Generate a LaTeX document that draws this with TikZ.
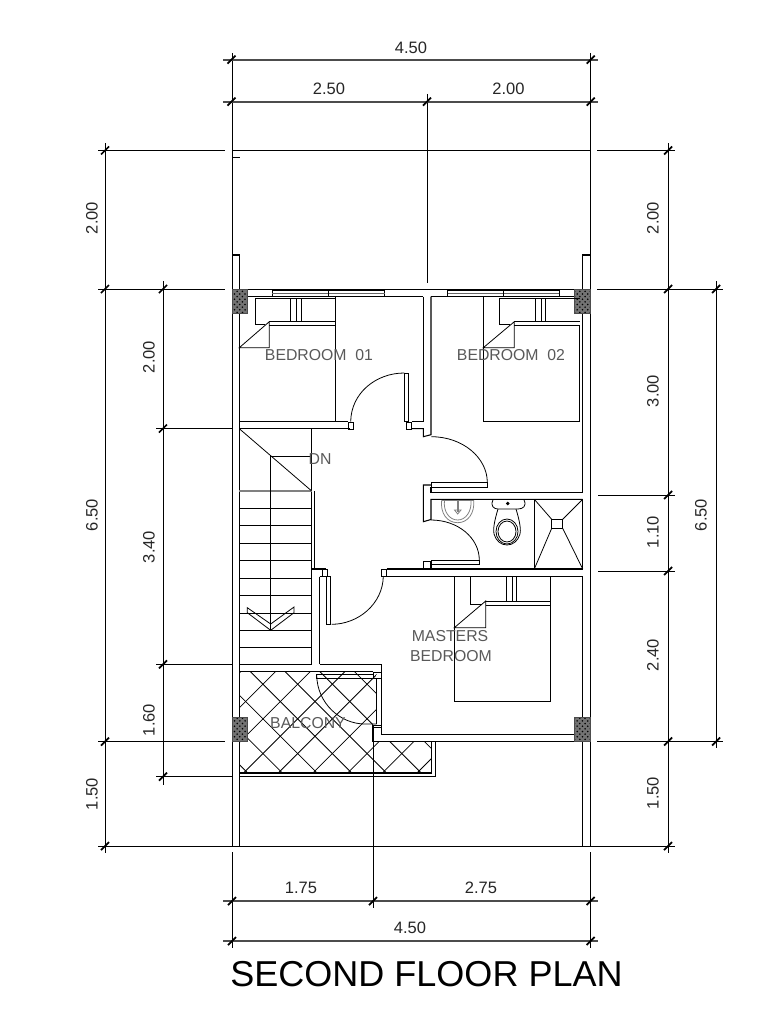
\documentclass[tikz,border=0pt]{standalone}
\usepackage{fontspec}
\setmainfont{Liberation Sans}
\usetikzlibrary{patterns}
\tikzset{
	wall/.style={black, line width=0.6pt},
	fine/.style={black, line width=0.45pt},
	dimline/.style={black!70, line width=1pt},
	extline/.style={black, line width=0.55pt},
	tick/.style={black, line width=1pt},
	dimtext/.style={font=\fontsize{9.4}{11}\selectfont, text=black!85, inner sep=0pt},
	roomtext/.style={font=\fontsize{9}{11}\selectfont, text=black!65, inner sep=0pt, align=center},
	column/.style={preaction={fill=black!55}, pattern=crosshatch dots, pattern color=black, draw=black!70, line width=0.4pt},
}
\begin{document}
\begin{tikzpicture}[x=0.02cm, y=-0.02cm]
	\useasboundingbox (0,0) rectangle (768,1024);

	% outer lines
	\draw [extline] (232,53) -- (232,150.5) -- (590.7,150.5);
	\draw [extline] (232,150.5) -- (232,846);
	\draw [extline] (590.7,53) -- (590.7,846);
	\draw [extline] (232,846) -- (590.7,846);
	\draw [wall] (232,255) -- (239.3,255) -- (239.3,846);
	\draw [wall] (590.7,255) -- (582.7,255) -- (582.7,492.5) -- (431,492.5);
	\draw [wall] (582.7,499.3) -- (582.7,569);
	\draw [wall] (582.7,576.7) -- (582.7,734.3);
	\draw [wall] (582.7,741.3) -- (582.7,846);
	\draw [extline] (232,157) -- (240,157);
	\draw [extline] (427,94) -- (427,283);
	\draw [extline] (373,726) -- (373,908);
	\draw [extline] (232,852) -- (232,948);
	\draw [extline] (590.7,852) -- (590.7,948);

	% top wall and windows
	\draw [wall] (232,289.3) -- (590.7,289.3);
	\draw [wall] (248,296.7) -- (423.3,296.7);
	\draw [wall] (431,296.7) -- (574.3,296.7);
	\foreach \wx/\wm/\we in {272.3/328.3/384.7, 447.7/503.3/559.3}{
		\draw [fine, fill=white] (\wx,290) rectangle (\we,296);
		\draw [fine, black!60] (\wx,293) -- (\we,293);
		\draw [fine] (\wm,290) -- (\wm,296);
	}

	% inner walls
	\draw [wall] (423.3,296.7) -- (423.3,421.3) -- (411.7,421.3);
	\draw [wall] (431,296.7) -- (431,434.7) -- (423.3,436.7) -- (423.3,428.7) -- (411.7,428.7);
	\draw [wall] (239.3,421.3) -- (348.3,421.3);
	\draw [wall] (239.3,428.7) -- (350,428.7);
	\draw [wall] (431,485) -- (423.3,485) -- (423.3,521.7) -- (431,519.5) -- (431,499.3) -- (582.7,499.3);
	\draw [wall] (431,492.5) -- (431,487);
	\draw [wall] (431,561.7) -- (423.3,561.7) -- (423.3,569);
	\draw [wall] (431,561.7) -- (431,569);
	\draw [wall] (386.7,569) -- (582.7,569);
	\draw [wall] (386.7,576.7) -- (582.7,576.7);
	\draw [wall] (311.7,569) -- (326,569);
	\draw [wall, line width=0.8pt] (319.5,576.7) -- (319.5,664.3);
	\draw [wall] (319.5,664.3) -- (381.3,664.3) -- (381.3,734.3) -- (574.3,734.3);
	\draw [wall] (319.5,576.7) -- (327,576.7);
	\draw [wall] (239.3,664.3) -- (311.7,664.3);
	\draw [wall] (239.3,671.7) -- (373,671.7);
	\draw [wall] (373,725) -- (373,741.3) -- (590.7,741.3);
	\draw [wall] (431.3,741.3) -- (431.3,773) -- (239.3,773);
	\draw [wall] (435.3,741.3) -- (435.3,776.7) -- (239.3,776.7);

	% doors
	\draw [fine] (404.3,373) rectangle (408.5,421.3);
	\draw [fine] (350.7,421.7) .. controls (351,393) and (376,373) .. (404.3,373);
	\draw [fine] (348.5,422) rectangle (353,429);
	\draw [fine] (406,422) rectangle (411.7,429);
	\draw [fine] (431,482.3) rectangle (487.3,487.3);
	\draw [fine] (431.3,436.7) .. controls (463,436.7) and (487.3,458) .. (487.3,482.3);
	\draw [fine] (431,560) rectangle (479.3,564.3);
	\draw [fine] (431,520) .. controls (458,520) and (479.3,538) .. (479.3,560);
	\draw [fine] (326.7,576.7) rectangle (330.7,624.3);
	\draw [fine] (331.7,624.3) .. controls (358,624.3) and (383,604) .. (383.3,576);
	\draw [fine] (322,569) rectangle (327,576.7);
	\draw [fine] (381.7,569) rectangle (386.7,576.7);
	\draw [fine] (316.7,674) rectangle (373.3,678.3);
	\draw [fine] (316.7,675) .. controls (317,703) and (340,724) .. (365,724) -- (376.7,724);
	\draw [fine] (376.7,678.3) -- (376.7,724);
	\draw [fine] (373,672.7) rectangle (381.3,678.3);
	\draw [fine] (373,725) -- (381.3,725);
	\draw [fine] (373,727.3) -- (381.3,727.3);

	% balcony pattern
	\begin{scope}
		\clip (239.3,671.7) -- (376.7,671.7) -- (376.7,724) -- (373,724) -- (373,741.3) -- (431.3,741.3) -- (431.3,773) -- (239.3,773) -- cycle;
		\foreach \c in {877.7,912.4,...,1240}{
			\draw [fine] (200,\c-200) -- (700,\c-700);
		}
		\foreach \d in {-560,-525.3,...,-270}{
			\draw [fine] (200,200-\d) -- (700,700-\d);
		}
	\end{scope}

	% columns
	\draw [column] (232,289.3) rectangle (247.7,313.3);
	\draw [column] (574.3,289.3) rectangle (590.7,313.3);
	\draw [column] (232,717.3) rectangle (247.7,741.3);
	\draw [column] (574.3,717.3) rectangle (590.7,741.3);

	% beds
	\draw [fine] (335,297) -- (335,421.3);
	\draw [fine] (483.3,297) -- (483.3,421.3) -- (579.7,421.3) -- (579.7,325);
	\foreach \ba/\bb/\bc/\bd/\be/\bf/\bg in {239.3/255.7/290.7/296.7/301.3/269.3/335, 483.3/499.3/535.3/541.7/545.7/514.3/579.7}{
		\draw [fine] (\bb,298.3) -- (\bb,324.3) -- (\bf-4,324.3);
		\draw [fine] (\bb,298.3) -- (\bg,298.3);
		\draw [fine] (\bc,298.3) -- (\bc,321.7);
		\draw [fine] (\bd,298.3) -- (\bd,321.7);
		\draw [fine] (\be,298.3) -- (\be,321.7);
		\draw [fine] (\bf,321.7) -- (\bg,321.7);
		\draw [fine] (\bf,325) -- (\bg,325);
		\draw [fine] (\bf,321.7) -- (\ba,347.7) -- (\bf,347.7) -- (\bf,321.7);
	}
	\draw [fine] (454.3,576.7) -- (454.3,701.7) -- (550.7,701.7) -- (550.7,576.7);
	\draw [fine] (470.3,576.7) -- (470.3,604.3) -- (482,604.3);
	\foreach \bx in {506.3,512.3,516.3}{
		\draw [fine] (\bx,576.7) -- (\bx,601);
	}
	\draw [fine] (485.7,601) -- (550.7,601);
	\draw [fine] (485.7,605.7) -- (550.7,605.7);
	\draw [fine] (485.7,601) -- (454.3,627.7) -- (485.7,627.7) -- cycle;

	% bathroom
	\draw [fine] (534.3,499.3) -- (534.3,569);
	\draw [fine] (551.7,519.3) rectangle (562.7,528.3);
	\draw [fine] (534.3,499.3) -- (551.7,519.3);
	\draw [fine] (582.7,499.3) -- (562.7,519.3);
	\draw [fine] (534.3,569) -- (551.7,528.3);
	\draw [fine] (582.7,569) -- (562.7,528.3);
	\draw [fine] (493,500) .. controls (490,506) and (494,509) .. (498,509) -- (518,509) .. controls (523,509) and (527,506) .. (524,500);
	\draw [fine, fill=black] (507.7,503.5) circle [radius=1.3];
	\draw [fine] (498,509) .. controls (494,522) and (493,530) .. (494,534) .. controls (496,541) and (501,545) .. (507,545) .. controls (513,545) and (518,541) .. (520,534) .. controls (521,530) and (520,522) .. (516,509);
	\draw [fine] (507,531.5) ellipse [x radius=11, y radius=12.5];
	\draw [fine] (507,531.5) ellipse [x radius=9, y radius=10.5];
	\draw [fine, black!50] (441.7,500) .. controls (440,513) and (447,522.7) .. (457.7,522.7) .. controls (468,522.7) and (475,513) .. (473.7,500);
	\draw [fine, black!50] (444.5,500) .. controls (443,511) and (449,520) .. (457.7,520) .. controls (466,520) and (472,511) .. (471,500);
	\draw [fine, black!50] (441.7,500) -- (473.7,500);
	\draw [fine, black!50, line width=1pt] (457.7,501) -- (457.7,512);
	\draw [fine, black!50] (454.5,510) -- (457.7,514) -- (461,510) -- cycle;

	% stairs
	\draw [wall] (311.7,428.7) -- (311.7,664.3);
	\draw [wall] (314.7,491) -- (314.7,569);
	\draw [fine, black!50, line width=0.7pt] (239.3,491) -- (311.7,491);
	\foreach \sy in {508.7,525.7,543,560.3,578,595.3,613,630.3,647.7}{
		\draw [fine] (239.3,\sy) -- (311.7,\sy);
	}
	\draw [fine] (239.3,428.7) -- (311.7,491);
	\draw [fine] (311,456) -- (270.7,456) -- (270.7,630.3);
	\draw [fine] (247.3,607.7) -- (270.7,624) -- (294,607) -- (294,612.7) -- (270.7,630.3) -- (247.3,612.7) -- cycle;

	% room labels
	\node [roomtext] (bed1) at (319,355) {BEDROOM\ \ 01};
	\node [roomtext] (bed2) at (511,355) {BEDROOM\ \ 02};
	\node [roomtext] (dn) at (320,459.5) {DN};
	\node [roomtext] (mast) at (450,636) {MASTERS};
	\node [roomtext] (mbed) at (451,656) {BEDROOM};
	\node [roomtext] (balc) at (308,723) {BALCONY};

	% top dimensions
	\draw [dimline] (223,59.7) -- (598,59.7);
	\draw [dimline] (223,101.7) -- (598,101.7);
	\foreach \tx in {231.5,590.7}{
		\draw [tick] (\tx-4,59.7+4) -- (\tx+4,59.7-4);
		\draw [tick] (\tx-4,101.7+4) -- (\tx+4,101.7-4);
	}
	\draw [tick] (427-4,101.7+4) -- (427+4,101.7-4);
	\node [dimtext] (t1) at (411,47.5) {4.50};
	\node [dimtext] (t2) at (329,88.5) {2.50};
	\node [dimtext] (t3) at (508.5,88.5) {2.00};

	% bottom dimensions
	\draw [dimline] (223,901) -- (598,901);
	\draw [dimline] (223,941) -- (598,941);
	\foreach \tx in {232,590.7}{
		\draw [tick] (\tx-4,901+4) -- (\tx+4,901-4);
		\draw [tick] (\tx-4,941+4) -- (\tx+4,941-4);
	}
	\draw [tick] (373-4,901+4) -- (373+4,901-4);
	\node [dimtext] (b1) at (301,888) {1.75};
	\node [dimtext] (b2) at (481,888) {2.75};
	\node [dimtext] (b3) at (410,928) {4.50};

	% left dimensions
	\draw [extline] (105,143) -- (105,853);
	\draw [extline] (163,281) -- (163,785);
	\draw [extline] (98,150.5) -- (225,150.5);
	\draw [extline] (98,289) -- (225,289);
	\draw [extline] (98,741.5) -- (225,741.5);
	\draw [extline] (98,846) -- (232,846);
	\draw [extline] (156,428.5) -- (232,428.5);
	\draw [extline] (156,664.3) -- (232,664.3);
	\draw [extline] (156,776.7) -- (232,776.7);
	\foreach \ty in {150.5,289,741.5,846}{
		\draw [tick] (105-4,\ty+4) -- (105+4,\ty-4);
	}
	\foreach \ty in {289,428.5,664.3,776.7}{
		\draw [tick] (163-4,\ty+4) -- (163+4,\ty-4);
	}
	\node [dimtext, rotate=90] (l1) at (92,218) {2.00};
	\node [dimtext, rotate=90] (l2) at (92,515) {6.50};
	\node [dimtext, rotate=90] (l3) at (92,794) {1.50};
	\node [dimtext, rotate=90] (l4) at (149,357) {2.00};
	\node [dimtext, rotate=90] (l5) at (149,547) {3.40};
	\node [dimtext, rotate=90] (l6) at (149,720) {1.60};

	% right dimensions
	\draw [extline] (668,143) -- (668,853);
	\draw [extline] (716,281) -- (716,748);
	\draw [extline] (597,150.5) -- (675,150.5);
	\draw [extline] (597,289) -- (723,289);
	\draw [extline] (598,495) -- (675,495);
	\draw [extline] (598,571) -- (675,571);
	\draw [extline] (597,741.5) -- (723,741.5);
	\draw [extline] (590.7,846) -- (675,846);
	\foreach \ty in {150.5,289,495,571,741.5,846}{
		\draw [tick] (668-4,\ty+4) -- (668+4,\ty-4);
	}
	\foreach \ty in {289,741.5}{
		\draw [tick] (716-4,\ty+4) -- (716+4,\ty-4);
	}
	\node [dimtext, rotate=90] (r1) at (653,218) {2.00};
	\node [dimtext, rotate=90] (r2) at (653,391) {3.00};
	\node [dimtext, rotate=90] (r3) at (653,532) {1.10};
	\node [dimtext, rotate=90] (r4) at (653,655) {2.40};
	\node [dimtext, rotate=90] (r5) at (653,793) {1.50};
	\node [dimtext, rotate=90] (r6) at (701,515) {6.50};

	% title
	\node [inner sep=0pt, font=\fontsize{20.5}{24}\selectfont] (title) at (426.5,974) {SECOND FLOOR PLAN};
\end{tikzpicture}
\end{document}
